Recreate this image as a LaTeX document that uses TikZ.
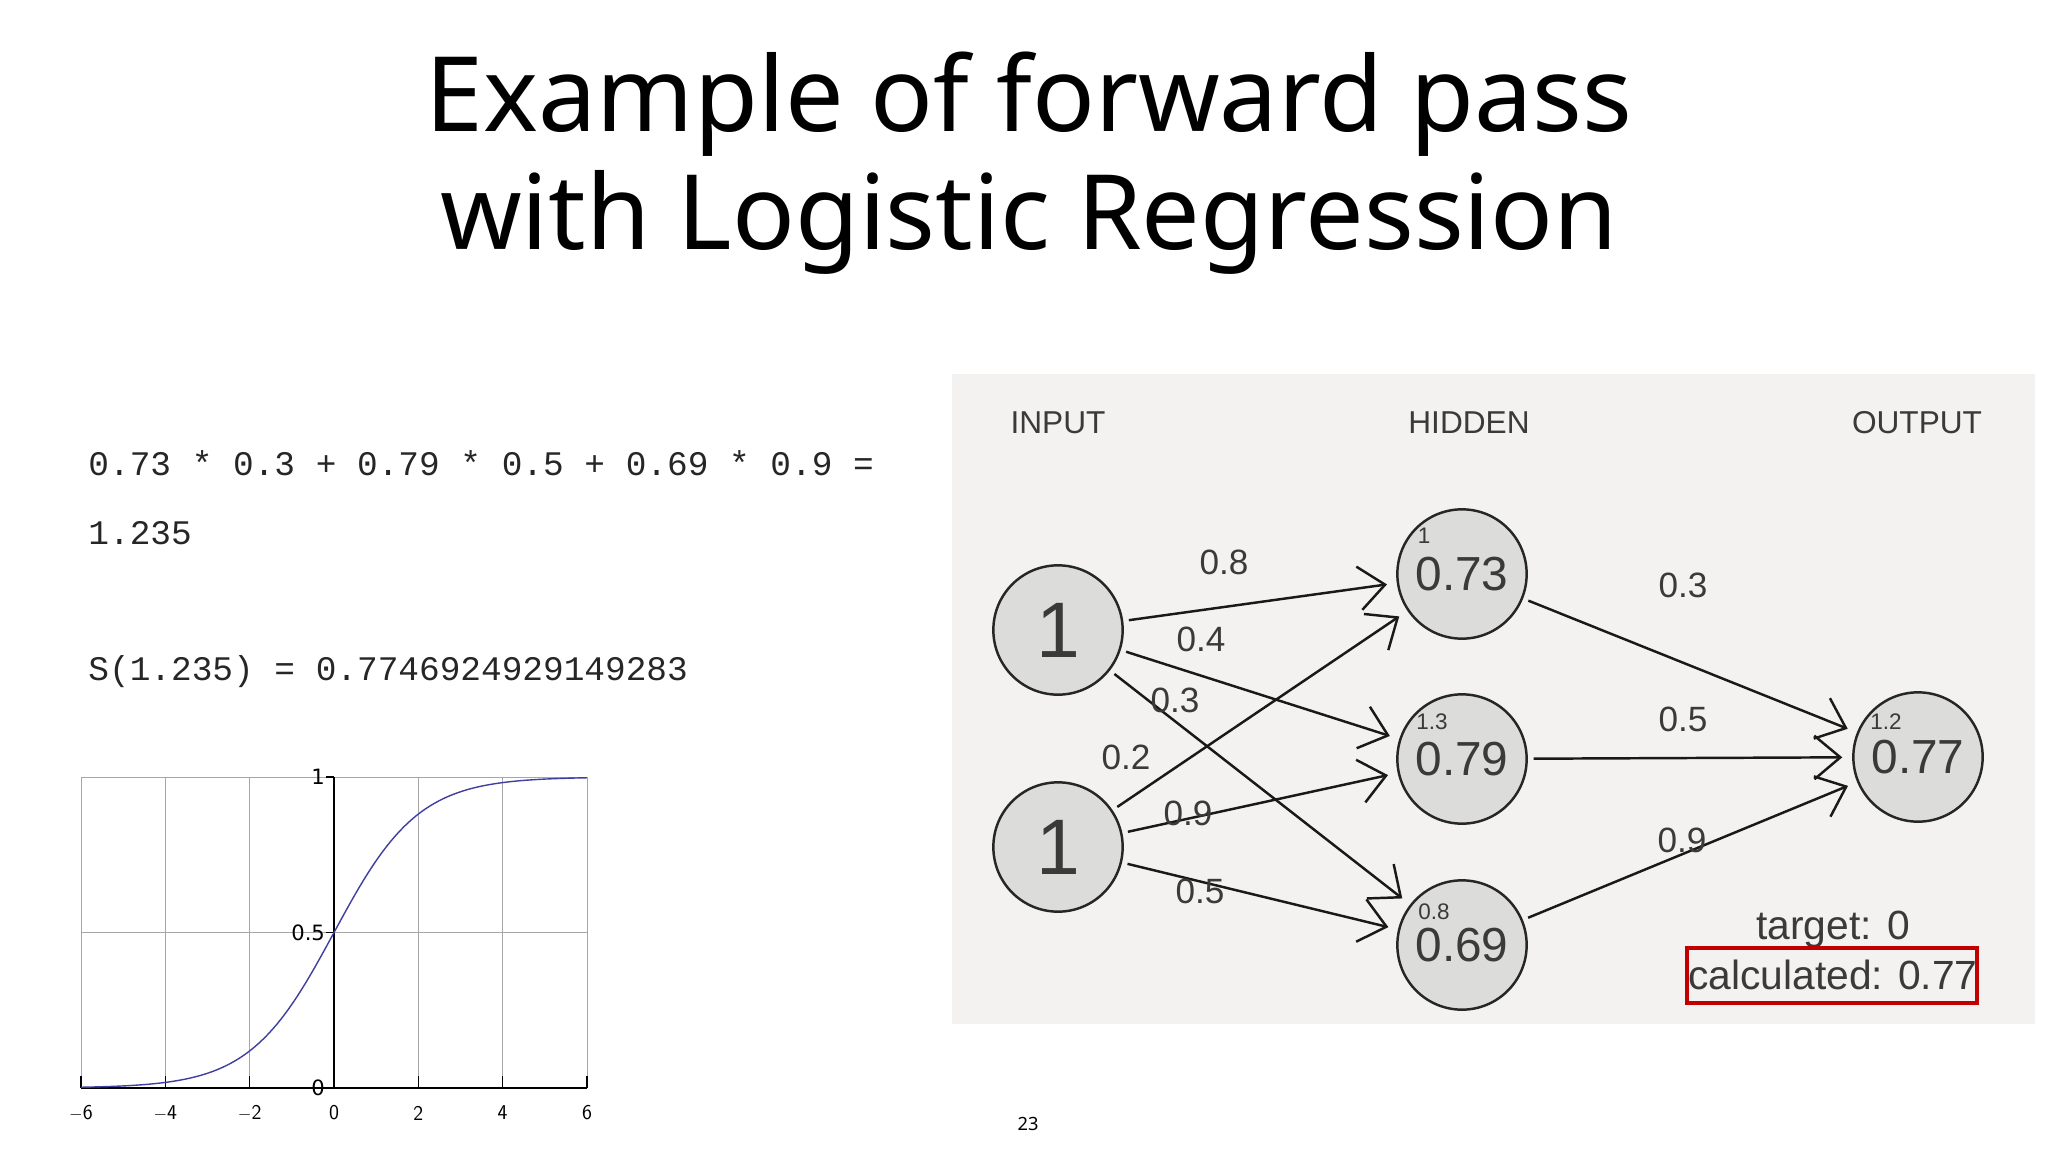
\documentclass[tikz,border=0pt]{standalone}
\usepackage{fontspec}
\setmainfont{Noto Sans}
\newfontfamily\netfont{Liberation Sans}
\newfontfamily\codefont{Liberation Mono}
\newfontfamily\plotfont{DejaVu Sans}
\usetikzlibrary{arrows.meta}
\definecolor{panel}{HTML}{F3F2F0}
\definecolor{nodefill}{HTML}{DCDCDA}
\definecolor{txt}{HTML}{3A3A3A}
\definecolor{redbox}{HTML}{C00000}
\definecolor{curve}{HTML}{3F3FA0}
\newcommand{\fs}[1]{\fontsize{#1}{#1}\selectfont}
\tikzset{
  neuron/.style={circle,draw=black!85,line width=3.5pt,fill=nodefill,minimum size=184pt,inner sep=0pt,text=txt,font=\netfont\fs{68}},
  inneuron/.style={neuron,font=\netfont\fs{112}},
  wlab/.style={text=txt,font=\netfont\fs{50}},
  small/.style={text=txt,font=\netfont\fs{32}},
  head/.style={text=txt,font=\netfont\fs{45}},
  conn/.style={line width=3.5pt,black!90,-{Straight Barb[length=37pt,width=62pt,line width=3.5pt]},shorten <=8pt,shorten >=14pt},
  code/.style={anchor=west,font=\codefont\fs{49},text=black!85},
  tick/.style={font=\plotfont\fs{30}}
}
\begin{document}
\begin{tikzpicture}[x=0.05cm,y=-0.05cm]
\useasboundingbox (0,0) rectangle (2048,1152);
\fill[white] (0,0) rectangle (2048,1152);
% title
\node[font=\fs{148}] (t1) at (1029,104) {Example of forward pass};
\node[font=\fs{148}] (t2) at (1029,222) {with Logistic Regression};
% code text
\node[code] (c1) at (86,463) {0.73 * 0.3 + 0.79 * 0.5 + 0.69 * 0.9 =};
\node[code] (c2) at (86,533) {1.235};
\node[code] (c3) at (86,672) {S(1.235) = 0.7746924929149283};
% sigmoid plot
\foreach \t in {-6,-4,...,6}{
  \draw[gray!70,line width=1.2pt] ({334+42.17*\t},777) -- ({334+42.17*\t},1088);
  \draw[black,line width=2pt] ({334+42.17*\t},1088) -- ({334+42.17*\t},1076);
  \node[tick] (xl\t) at ({334+42.17*\t},1113) {$\mathsf{\t}$};
}
\foreach \v/\yy in {0/1088,0.5/932.5,1/777}{
  \draw[gray!70,line width=1.2pt] (81,\yy) -- (587,\yy);
}
\draw[black,line width=2pt] (334,777) -- (334,1088);
\draw[black,line width=2pt] (81,1088) -- (587,1088);
\foreach \v/\yy in {0/1088,0.5/932.5,1/777}{
  \draw[black,line width=2pt] (326,\yy) -- (334,\yy);
  \node[tick,anchor=east,inner sep=1.4pt] (yl\v) at (326,\yy) {\v};
}
\draw[curve,line width=2pt] plot[domain=-6:6,samples=120] ({334+42.17*\x},{1088-311/(1+exp(-\x))});
% page number
\node[font=\fs{26}] (pn) at (1028,1124) {23};
% panel
\fill[panel] (952,374) rectangle (2035,1024);
\node[head] (hin) at (1058,423) {INPUT};
\node[head] (hhid) at (1469,423) {HIDDEN};
\node[head] (hout) at (1917,423) {OUTPUT};
\node[inneuron] (i1) at (1058,630) {1};
\node[inneuron] (i2) at (1058,847) {1};
\node[neuron] (h1) at (1462,574) {0.73};
\node[neuron] (h2) at (1462,759) {0.79};
\node[neuron] (h3) at (1462,945) {0.69};
\node[neuron] (o) at (1918,757) {0.77};
\node[small] (s1) at (1424,536) {1};
\node[small] (s2) at (1432,722) {1.3};
\node[small] (s3) at (1434,912) {0.8};
\node[small] (s4) at (1886,722) {1.2};
\draw[conn] (i1) -- (h1);
\draw[conn] (i1) -- (h2);
\draw[conn] (i1) -- (h3);
\draw[conn] (i2) -- (h1);
\draw[conn] (i2) -- (h2);
\draw[conn] (i2) -- (h3);
\draw[conn] (h1) -- (o);
\draw[conn] (h2) -- (o);
\draw[conn] (h3) -- (o);
\node[wlab] (w1) at (1224,562) {0.8};
\node[wlab] (w2) at (1201,639) {0.4};
\node[wlab] (w3) at (1175,700) {0.3};
\node[wlab] (w4) at (1126,757) {0.2};
\node[wlab] (w5) at (1188,813) {0.9};
\node[wlab] (w6) at (1200,891) {0.5};
\node[wlab] (w7) at (1683,585) {0.3};
\node[wlab] (w8) at (1683,719) {0.5};
\node[wlab] (w9) at (1682,840) {0.9};
\node[wlab,font=\netfont\fs{58}] (tg) at (1833,929) {target: 0};
\node[wlab,font=\netfont\fs{58}] (cal) at (1833,975) {calculated: 0.77};
\draw[redbox,line width=4.5pt] (1687,948) rectangle (1977,1003);
\end{tikzpicture}
\end{document}
